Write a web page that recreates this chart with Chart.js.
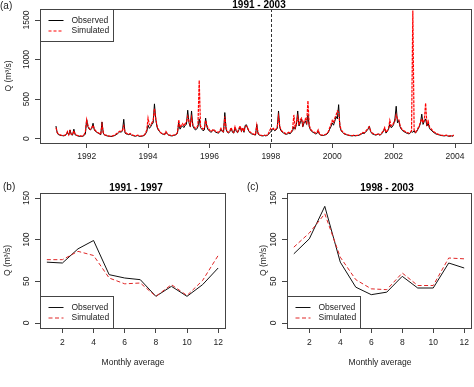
<!DOCTYPE html>
<html lang="en">
<head>
<meta charset="utf-8">
<title>Observed vs simulated discharge</title>
<script src="https://cdn.jsdelivr.net/npm/chart.js"></script>
<style>
    body { margin: 0; background: #fff; }
    #wrap { position: relative; width: 474px; height: 387px; }
    canvas { position: absolute; }
</style>
</head>
<body>

<div id="wrap">
    <canvas id="chartA" width="474" height="175" style="left:0;top:0"></canvas>
    <canvas id="chartB" width="237" height="212" style="left:0;top:175px"></canvas>
    <canvas id="chartC" width="237" height="212" style="left:237px;top:175px"></canvas>
</div>

<script>
    const FONT = "'Liberation Sans', Arial, sans-serif";

    // (a) half-monthly discharge, 24 samples per year
    const startYear = 1991;
    const samplesPerYear = 24;
    const qObs = [
        160, 70, 50, 45, 40, 38, 35, 40, 50, 80, 45, 110, 50, 45, 120, 50, 40, 35, 30, 30, 28, 30, 40, 60,          // 1991
        240, 150, 120, 110, 130, 195, 110, 90, 80, 70, 60, 50, 210, 70, 45, 40, 35, 30, 30, 28, 30, 35, 40, 50,     // 1992
        60, 75, 90, 80, 100, 245, 70, 60, 55, 50, 60, 45, 40, 35, 30, 35, 40, 30, 28, 30, 35, 40, 60, 90,           // 1993
        170, 130, 150, 180, 200, 440, 250, 150, 110, 90, 70, 60, 55, 50, 80, 60, 45, 40, 35, 35, 40, 45, 50, 70,    // 1994
        200, 120, 150, 160, 140, 170, 180, 360, 200, 150, 350, 160, 130, 110, 120, 150, 250, 140, 120, 100, 110, 260, 150, 110, // 1995
        100, 80, 90, 110, 95, 80, 75, 70, 85, 120, 90, 80, 330, 120, 80, 70, 90, 130, 80, 70, 140, 90, 75, 110,     // 1996
        150, 90, 130, 80, 170, 175, 120, 90, 70, 60, 55, 50, 45, 180, 60, 45, 40, 35, 35, 40, 35, 40, 50, 70,       // 1997
        90, 110, 120, 100, 110, 130, 350, 140, 100, 80, 70, 60, 55, 60, 70, 60, 80, 100, 150, 120, 180, 350, 160, 200, // 1998
        250, 150, 200, 220, 180, 300, 150, 110, 90, 80, 70, 60, 65, 100, 55, 45, 40, 40, 45, 50, 60, 80, 120, 150,  // 1999
        200, 170, 220, 280, 250, 430, 150, 100, 80, 65, 55, 50, 45, 40, 38, 35, 35, 40, 35, 38, 40, 45, 50, 60,     // 2000
        70, 65, 80, 100, 120, 160, 90, 65, 55, 50, 45, 50, 60, 45, 50, 70, 90, 130, 70, 90, 120, 180, 140, 150,     // 2001
        180, 250, 410, 200, 230, 150, 120, 100, 90, 80, 70, 65, 60, 70, 90, 80, 100, 70, 90, 120, 150, 200, 310, 180, // 2002
        220, 250, 160, 200, 130, 110, 100, 80, 70, 60, 55, 50, 45, 40, 38, 35, 35, 40, 35, 30, 30, 35, 30, 40       // 2003
    ];
    const qSim = [
        140, 80, 55, 50, 45, 42, 40, 45, 55, 90, 50, 100, 55, 50, 100, 55, 45, 40, 35, 35, 32, 35, 50, 90,          // 1991
        240, 170, 130, 120, 140, 170, 120, 100, 85, 75, 65, 55, 180, 75, 50, 45, 40, 35, 32, 30, 32, 40, 45, 60,    // 1992
        70, 85, 95, 90, 110, 160, 80, 70, 60, 55, 65, 50, 45, 40, 35, 40, 45, 35, 32, 35, 40, 45, 70, 110,          // 1993
        260, 180, 170, 200, 230, 380, 260, 160, 120, 95, 75, 65, 60, 55, 90, 65, 50, 45, 40, 40, 45, 50, 55, 80,    // 1994
        240, 140, 170, 190, 160, 190, 210, 280, 220, 170, 270, 180, 150, 130, 140, 170, 740, 160, 140, 120, 130, 230, 170, 130, // 1995
        110, 90, 100, 120, 105, 90, 85, 80, 95, 130, 100, 90, 280, 130, 90, 80, 100, 140, 90, 80, 150, 100, 85, 130, // 1996
        160, 100, 140, 90, 150, 160, 130, 100, 80, 70, 60, 55, 50, 170, 70, 50, 45, 40, 40, 45, 40, 45, 60, 100,    // 1997
        130, 120, 130, 110, 120, 150, 280, 150, 110, 90, 80, 70, 60, 70, 80, 70, 90, 120, 300, 140, 200, 280, 170, 240, // 1998
        260, 170, 220, 250, 200, 480, 170, 120, 100, 90, 80, 70, 75, 110, 60, 50, 45, 45, 50, 55, 70, 90, 140, 180, // 1999
        230, 200, 260, 300, 350, 330, 170, 110, 90, 70, 60, 55, 50, 45, 42, 40, 40, 45, 40, 42, 45, 50, 55, 70,     // 2000
        80, 75, 90, 110, 130, 150, 100, 75, 65, 55, 50, 55, 65, 50, 55, 80, 100, 140, 80, 100, 130, 230, 160, 170,  // 2001
        200, 220, 300, 250, 240, 170, 130, 110, 100, 90, 80, 75, 70, 80, 100, 1620, 110, 80, 100, 130, 160, 210, 250, 200, // 2002
        240, 450, 180, 220, 150, 130, 110, 90, 80, 70, 60, 55, 50, 45, 42, 40, 40, 45, 40, 35, 35, 40, 35, 45       // 2003
    ];
    const splitYear = 1998;
    const yearTicks = [1992, 1994, 1996, 1998, 2000, 2002, 2004];
    const qTicksA = [0, 500, 1000, 1500];

    // (b) and (c) monthly averages
    const months = [1, 2, 3, 4, 5, 6, 7, 8, 9, 10, 11, 12];
    const monthTicks = [2, 4, 6, 8, 10, 12];
    const qTicksM = [0, 50, 100, 150];
    const obs9197 = [73, 72, 89, 99, 58, 54, 52, 32, 44, 32, 46, 66];
    const sim9197 = [76, 76, 86, 81, 54, 47, 48, 32, 46, 33, 51, 81];
    const obs9803 = [83, 101, 140, 73, 43, 34, 37, 56, 42, 42, 72, 66];
    const sim9803 = [91, 108, 131, 79, 52, 41, 40, 60, 45, 45, 78, 77];

    const times = qObs.map((_, i) => startYear + i / samplesPerYear);

    // box, rotated y labels, titles and legend, R style
    const rFrame = {
        id: 'rFrame',
        afterDraw(chart, args, o) {
            const { ctx, chartArea: a, scales: { x, y } } = chart;
            ctx.save();

            if (o.vline != null) {
                const px = Math.round(x.getPixelForValue(o.vline)) + 0.5;
                ctx.strokeStyle = '#333';
                ctx.lineWidth = 1;
                ctx.setLineDash([3, 2]);
                ctx.beginPath();
                ctx.moveTo(px, a.top);
                ctx.lineTo(px, a.bottom);
                ctx.stroke();
                ctx.setLineDash([]);
            }

            ctx.strokeStyle = '#444';
            ctx.lineWidth = 1;
            ctx.strokeRect(Math.round(a.left) + 0.5, Math.round(a.top) + 0.5,
                Math.round(a.right - a.left), Math.round(a.bottom - a.top));

            ctx.fillStyle = '#222';
            ctx.font = `8.5px ${FONT}`;
            ctx.textAlign = 'center';
            ctx.textBaseline = 'middle';
            y.ticks.forEach(t => {
                ctx.save();
                ctx.translate(a.left - 13, y.getPixelForValue(t.value));
                ctx.rotate(-Math.PI / 2);
                ctx.fillText(String(t.value), 0, 0);
                ctx.restore();
            });

            ctx.save();
            ctx.translate(o.yTitleX, (a.top + a.bottom) / 2);
            ctx.rotate(-Math.PI / 2);
            ctx.fillText('Q (m³/s)', 0, 0);
            ctx.restore();

            if (o.xTitle) ctx.fillText(o.xTitle, o.xTitleX, o.xTitleY);

            ctx.font = `10px ${FONT}`;
            ctx.textAlign = 'left';
            ctx.fillText(o.panel, o.panelX, o.panelY);

            ctx.font = `bold 10px ${FONT}`;
            ctx.textAlign = 'center';
            ctx.fillStyle = '#000';
            ctx.fillText(o.title, o.titleX, o.titleY);

            // legend
            const lw = 73, lh = 32;
            const lx = Math.round(a.left) + 0.5;
            const ly = o.legendTop ? Math.round(a.top) + 0.5 : Math.round(a.bottom) + 0.5 - lh;
            ctx.fillStyle = '#fff';
            ctx.fillRect(lx, ly, lw, lh);
            ctx.strokeStyle = '#444';
            ctx.strokeRect(lx, ly, lw, lh);
            ctx.font = `8.5px ${FONT}`;
            ctx.textAlign = 'left';
            chart.data.datasets.slice().sort((p, q) => q.order - p.order).forEach((ds, i) => {
                const ry = ly + 11 + i * 10.5;
                ctx.strokeStyle = ds.borderColor;
                ctx.lineWidth = 1;
                ctx.setLineDash(o.legendDash && ds.order === 0 ? o.legendDash : (ds.borderDash || []));
                ctx.beginPath();
                ctx.moveTo(lx + 8, ry);
                ctx.lineTo(lx + 23, ry);
                ctx.stroke();
                ctx.setLineDash([]);
                ctx.fillStyle = '#222';
                ctx.fillText(ds.label, lx + 31, ry);
            });

            ctx.restore();
        }
    };

    function axis(min, max, tickValues, fitSize, pad, horizontal) {
        return {
            type: 'linear',
            min: min,
            max: max,
            afterBuildTicks: s => { s.ticks = tickValues.map(v => ({ value: v })); },
            afterFit: s => { if (horizontal) s.height = fitSize; else s.width = fitSize; },
            grid: { drawOnChartArea: false, drawTicks: true, tickLength: 5, color: '#444' },
            border: { display: false },
            ticks: {
                display: horizontal,
                autoSkip: false,
                maxRotation: 0,
                padding: pad,
                color: '#222',
                font: { family: FONT, size: 8.5 },
                callback: v => String(v)
            }
        };
    }

    function lineSet(label, data, color, dash, order, width) {
        return {
            label: label,
            data: data,
            borderColor: color,
            borderWidth: width || 1,
            borderDash: dash,
            pointRadius: 0,
            tension: 0,
            fill: false,
            order: order
        };
    }

    new Chart(document.getElementById('chartA'), {
        type: 'line',
        data: {
            datasets: [
                lineSet('Observed', times.map((t, i) => ({ x: t, y: qObs[i] })), '#000', [], 1),
                lineSet('Simulated', times.map((t, i) => ({ x: t, y: qSim[i] })), '#ff0000', [3, 1], 0, 1.2)
            ]
        },
        options: {
            responsive: false,
            animation: false,
            events: [],
            layout: { padding: { left: 0, top: 9, right: 3, bottom: 0 } },
            scales: {
                x: axis(1990.48, 2004.52, yearTicks, 32, 4, true),
                y: axis(-55, 1640, qTicksA, 40, 0, false)
            },
            plugins: {
                legend: { display: false },
                tooltip: { enabled: false },
                rFrame: {
                    title: '1991 - 2003', titleX: 259, titleY: 5,
                    panel: '(a)', panelX: 0, panelY: 6,
                    yTitleX: 9, legendTop: true, vline: splitYear, legendDash: [3, 2]
                }
            }
        },
        plugins: [rFrame]
    });

    function monthlyChart(id, obs, sim, padLeft, padRight, o) {
        new Chart(document.getElementById(id), {
            type: 'line',
            data: {
                datasets: [
                    lineSet('Observed', months.map((m, i) => ({ x: m, y: obs[i] })), '#111', [], 1),
                    lineSet('Simulated', months.map((m, i) => ({ x: m, y: sim[i] })), '#e02626', [4, 2.5], 0)
                ]
            },
            options: {
                responsive: false,
                animation: false,
                events: [],
                layout: { padding: { left: 0, top: 18, right: padRight, bottom: 0 } },
                scales: {
                    x: axis(0.56, 12.44, monthTicks, 59, 5, true),
                    y: axis(-6, 156, qTicksM, padLeft, 0, false)
                },
                plugins: {
                    legend: { display: false },
                    tooltip: { enabled: false },
                    rFrame: o
                }
            },
            plugins: [rFrame]
        });
    }

    monthlyChart('chartB', obs9197, sim9197, 40, 12, {
        title: '1991 - 1997', titleX: 136, titleY: 13,
        panel: '(b)', panelX: 3, panelY: 12,
        yTitleX: 8, xTitle: 'Monthly average', xTitleX: 133, xTitleY: 188,
        legendTop: false
    });

    monthlyChart('chartC', obs9803, sim9803, 50, 2, {
        title: '1998 - 2003', titleX: 150, titleY: 13,
        panel: '(c)', panelX: 10, panelY: 12,
        yTitleX: 27, xTitle: 'Monthly average', xTitleX: 143, xTitleY: 188,
        legendTop: false
    });
</script>

</body>
</html>
